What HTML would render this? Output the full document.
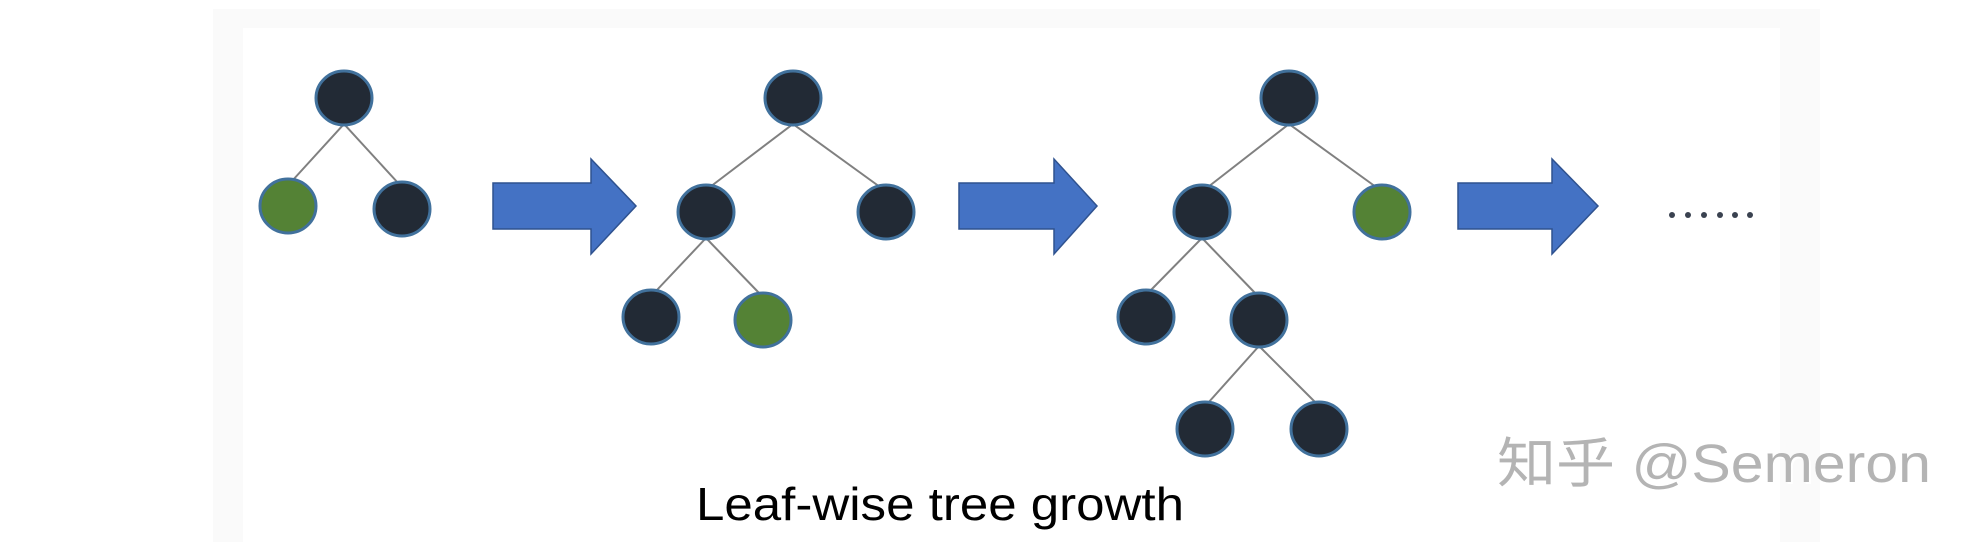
<!DOCTYPE html>
<html><head><meta charset="utf-8"><style>
html,body{margin:0;padding:0;background:#fff;width:1986px;height:542px;overflow:hidden}
</style></head><body>
<svg width="1986" height="542" viewBox="0 0 1986 542" xmlns="http://www.w3.org/2000/svg">
<rect x="213" y="9" width="1607" height="533" fill="#fafafa"/>
<rect x="243" y="28" width="1537" height="514" fill="#ffffff"/>
<g stroke="#808080" stroke-width="2">
<line x1="344" y1="124" x2="292" y2="181"/><line x1="344" y1="124" x2="399" y2="184"/>
<line x1="793" y1="124" x2="710" y2="187"/><line x1="793" y1="124" x2="880" y2="187"/>
<line x1="706" y1="238" x2="656" y2="291"/><line x1="706" y1="238" x2="760" y2="294"/>
<line x1="1289" y1="124" x2="1208" y2="187"/><line x1="1289" y1="124" x2="1376" y2="187"/>
<line x1="1202" y1="238" x2="1150" y2="291"/><line x1="1202" y1="238" x2="1256" y2="294"/>
<line x1="1259" y1="346" x2="1208" y2="403"/><line x1="1259" y1="346" x2="1316" y2="403"/>
</g>
<g fill="#222a35" stroke="#41719c" stroke-width="3">
<ellipse cx="344" cy="98" rx="28" ry="27"/>
<ellipse cx="402" cy="209" rx="28" ry="27"/>
<ellipse cx="793" cy="98" rx="28" ry="27"/>
<ellipse cx="706" cy="212" rx="28" ry="27"/>
<ellipse cx="886" cy="212" rx="28" ry="27"/>
<ellipse cx="651" cy="317" rx="28" ry="27"/>
<ellipse cx="1289" cy="98" rx="28" ry="27"/>
<ellipse cx="1202" cy="212" rx="28" ry="27"/>
<ellipse cx="1146" cy="317" rx="28" ry="27"/>
<ellipse cx="1259" cy="320" rx="28" ry="27"/>
<ellipse cx="1205" cy="429" rx="28" ry="27"/>
<ellipse cx="1319" cy="429" rx="28" ry="27"/>
</g>
<g fill="#548235" stroke="#41719c" stroke-width="3">
<ellipse cx="288" cy="206" rx="28" ry="27"/>
<ellipse cx="763" cy="320" rx="28" ry="27"/>
<ellipse cx="1382" cy="212" rx="28" ry="27"/>
</g>
<g fill="#4472c4" stroke="#2f528f" stroke-width="1.5">
<polygon points="493,183 591,183 591,159 636,206 591,254 591,229 493,229"/>
<polygon points="959,183 1054,183 1054,159 1097,206 1054,254 1054,229 959,229"/>
<polygon points="1458,183 1552,183 1552,159 1598,206 1552,254 1552,229 1458,229"/>
</g>
<g fill="#3a4250">
<circle cx="1672" cy="215" r="3"/><circle cx="1688" cy="215" r="3"/><circle cx="1704" cy="215" r="3"/>
<circle cx="1720" cy="215" r="3"/><circle cx="1735" cy="215" r="3"/><circle cx="1750" cy="215" r="3"/>
</g>
<text x="696" y="520" font-family="'Liberation Sans', sans-serif" font-size="46" fill="#000" textLength="488" lengthAdjust="spacingAndGlyphs">Leaf-wise tree growth</text>
<text x="1499" y="484" font-family="'Liberation Sans','Noto Sans CJK SC',sans-serif" font-size="54" fill="#fff" textLength="434" lengthAdjust="spacingAndGlyphs">知乎 @Semeron</text>
<text x="1497" y="482" font-family="'Liberation Sans','Noto Sans CJK SC',sans-serif" font-size="54" fill="#b4b4b4" textLength="434" lengthAdjust="spacingAndGlyphs">知乎 @Semeron</text>
</svg>
</body></html>
